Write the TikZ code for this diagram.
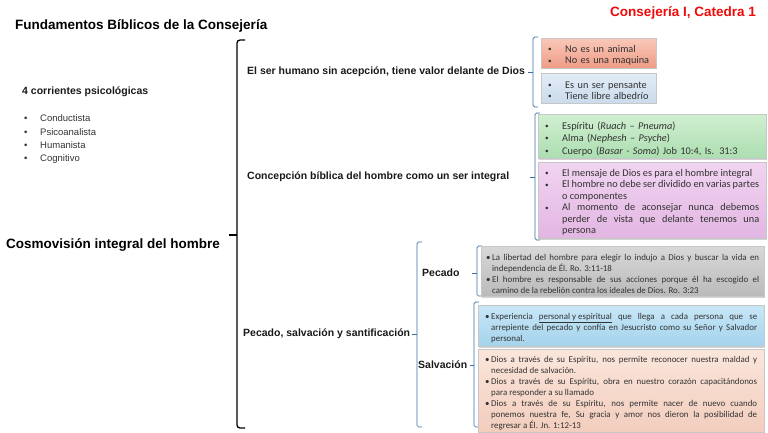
\documentclass[tikz,border=0pt]{standalone}
\usepackage{fontspec}
\setmainfont{Carlito}
\newfontfamily\arialf{Liberation Sans}
\usepackage{tikz}
\usetikzlibrary{positioning,shadows,calc}
\definecolor{braceblue}{RGB}{58,110,165}
\definecolor{textgray}{RGB}{50,50,50}
\definecolor{titlered}{RGB}{238,10,10}
\definecolor{redtop}{RGB}{249,200,184}
\definecolor{redbot}{RGB}{238,156,134}
\definecolor{bluetop}{RGB}{226,236,246}
\definecolor{bluebot}{RGB}{202,219,236}
\definecolor{greentop}{RGB}{208,239,208}
\definecolor{greenbot}{RGB}{172,222,176}
\definecolor{pinktop}{RGB}{241,212,241}
\definecolor{pinkbot}{RGB}{226,182,226}
\definecolor{graytop}{RGB}{216,216,216}
\definecolor{graybot}{RGB}{186,186,186}
\definecolor{skytop}{RGB}{200,231,247}
\definecolor{skybot}{RGB}{164,211,236}
\definecolor{peachtop}{RGB}{251,230,219}
\definecolor{peachbot}{RGB}{242,205,189}
\hyphenpenalty=10000
\exhyphenpenalty=10000
\tolerance=3000
\emergencystretch=8pt
% bullet lines inside the boxes
\newcommand{\bitem}{\par\noindent\hangindent=17pt\hangafter=1\makebox[17pt][l]{\raisebox{0.15ex}{\scalebox{0.7}{\textbullet}}}}
\newcommand{\sitem}{\par\noindent\hangindent=6pt\hangafter=1\makebox[6pt][l]{\textbullet}}

\begin{document}
\begin{tikzpicture}[x=1pt,y=-1pt,
  heading/.style={font=\arialf\bfseries\fontsize{10.5}{12}\selectfont, text=black!90, inner sep=0pt, anchor=west},
  bigtitle/.style={font=\arialf\bfseries\fontsize{13.5}{15}\selectfont, inner sep=0pt},
  listitem/.style={font=\arialf\fontsize{9.5}{11}\selectfont, text=textgray, inner sep=0pt, anchor=west},
  card/.style={anchor=north west, draw=black!22, line width=0.4pt, inner xsep=7pt, inner ysep=2pt, text=textgray,
    drop shadow={shadow xshift=1pt, shadow yshift=-1.3pt, opacity=0.35}},
  bigtext/.style={font=\fontsize{10.3}{11.4}\selectfont},
  smalltext/.style={font=\fontsize{8.9}{11}\selectfont, align=justify},
  bluebrace/.style={draw=braceblue, line width=0.7pt, rounded corners=1.5pt},
  blackbrace/.style={draw=black, line width=1.3pt, rounded corners=3pt}]

  \useasboundingbox (0,0) rectangle (768,433);

  % ── Titles ──
  \node[bigtitle, anchor=west] (titulo) at (15,26) {Fundamentos Bíblicos de la Consejería};
  \node[bigtitle, anchor=east, text=titlered] (catedra) at (756,13) {Consejería I, Catedra 1};

  % ── Left column ──
  \node[heading] (corrientes) at (22,92) {4 corrientes psicológicas};
  \foreach \t [count=\i] in {Conductista,Psicoanalista,Humanista,Cognitivo}
    \node[listitem] (psi\i) at (24,{104.3+13.7*\i}) {\makebox[16pt][l]{\textbullet}\t};
  \node[bigtitle, anchor=west] (cosmo) at (6,245) {Cosmovisión integral del hombre};

  % ── Main bracket ──
  \draw[blackbrace] (245,40) -- (237,40) -- (237,428) -- (245,428);
  \coordinate (brMain) at (237,235);
  \draw[blackbrace] (brMain) -- ++(-8,0);

  % ── Level 1 ──
  \node[heading] (valor) at (247,72) {El ser humano sin acepción, tiene valor delante de Dios};
  \node[heading] (integral) at (247,177) {Concepción bíblica del hombre como un ser integral};
  \node[heading] (pecsal) at (243,334) {Pecado, salvación y santificación};

  \draw[bluebrace] (538,37) -- (533,37) -- (533,107) -- (538,107);
  \coordinate (brValor) at (533,72);
  \draw[bluebrace] (brValor) -- ++(-5,0);

  \draw[bluebrace] (540,113) -- (535,113) -- (535,240) -- (540,240);
  \coordinate (brIntegral) at (535,177);
  \draw[bluebrace] (brIntegral) -- ++(-5,0);

  \draw[bluebrace] (422,242) -- (417,242) -- (417,427) -- (422,427);
  \coordinate (brPecsal) at (417,334);
  \draw[bluebrace] (brPecsal) -- ++(-5,0);

  % ── Level 2 ──
  \node[heading] (pecado) at (422,273) {Pecado};
  \node[heading] (salvacion) at (418,365) {Salvación};

  \draw[bluebrace] (482,246) -- (477,246) -- (477,296) -- (482,296);
  \coordinate (brPecado) at (477,273);
  \draw[bluebrace] (brPecado) -- ++(-5,0);

  \draw[bluebrace] (479,302) -- (474,302) -- (474,427) -- (479,427);
  \coordinate (brSalv) at (474,365);
  \draw[bluebrace] (brSalv) -- ++(-4,0);

  % ── Boxes ──
  \node[card, bigtext, top color=redtop, bottom color=redbot, text width=101pt, minimum height=30pt] (noanimal) at (541,38)
    {\bitem No es un animal\bitem No es una maquina\par};
  \node[card, bigtext, top color=bluetop, bottom color=bluebot, text width=101pt, minimum height=30pt] (pensante) at (541,73)
    {\bitem Es un ser pensante\bitem Tiene libre albedrío\par};
  \node[card, top color=greentop, bottom color=greenbot, text width=214pt, minimum height=44pt, font=\fontsize{10.3}{12.5}\selectfont] (espiritu) at (538,114)
    {\bitem Espíritu (\textit{Ruach – Pneuma})\bitem Alma (\textit{Nephesh – Psyche})\bitem Cuerpo (\textit{Basar - Soma}) Job 10:4, Is. 31:3\par};
  \node[card, bigtext, align=justify, top color=pinktop, bottom color=pinkbot, text width=214pt, minimum height=76pt] (mensaje) at (538,162)
    {\bitem El mensaje de Dios es para el hombre integral
     \bitem El hombre no debe ser dividido en varias partes\linebreak o componentes
     \bitem Al momento de aconsejar nunca debemos\linebreak perder de vista que delante tenemos una\linebreak persona\par};

  \node[card, smalltext, inner xsep=5pt, top color=graytop, bottom color=graybot, text width=273pt, minimum height=50pt] (libertad) at (481,246)
    {\sitem La libertad del hombre para elegir lo indujo a Dios y buscar la vida en\linebreak independencia de Él. Ro. 3:11-18
     \sitem El hombre es responsable de sus acciones porque él ha escogido el\linebreak camino de la rebelión contra los ideales de Dios. Ro. 3:23\par};
  \node[card, smalltext, top color=skytop, bottom color=skybot, text width=272pt, minimum height=41pt] (experiencia) at (478,305)
    {\sitem Experiencia \underline{personal y espiritual} que llega a cada persona que se\linebreak arrepiente del pecado y confía en Jesucristo como su Señor y Salvador\linebreak personal.\par};
  \node[card, smalltext, top color=peachtop, bottom color=peachbot, text width=272pt, minimum height=78pt] (espiritusanto) at (478,349)
    {\sitem Dios a través de su Espíritu, nos permite reconocer nuestra maldad y\linebreak necesidad de salvación.
     \sitem Dios a través de su Espíritu, obra en nuestro corazón capacitándonos\linebreak para responder a su llamado
     \sitem Dios a través de su Espíritu, nos permite nacer de nuevo cuando\linebreak ponemos nuestra fe, Su gracia y amor nos dieron la posibilidad de\linebreak regresar a Él. Jn. 1:12-13\par};
\end{tikzpicture}
\end{document}
